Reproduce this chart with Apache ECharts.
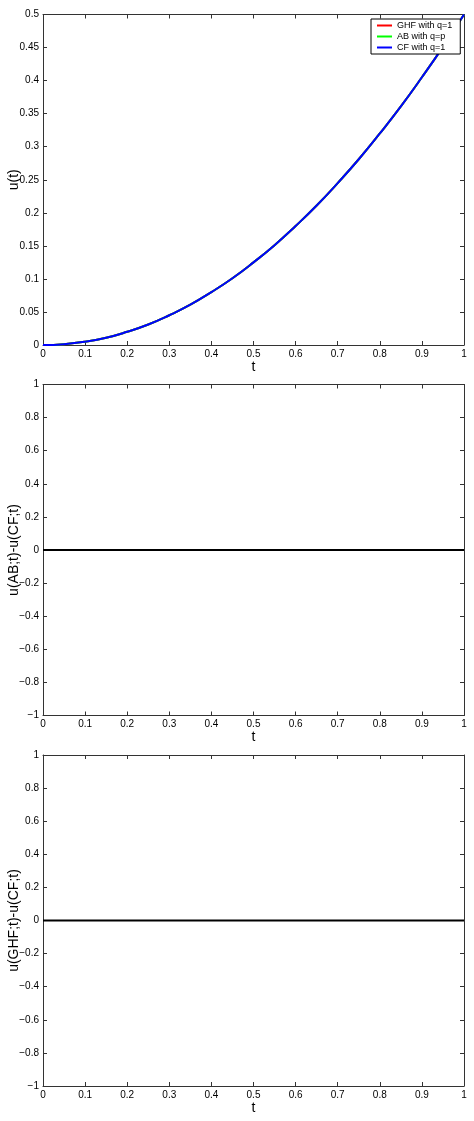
<!DOCTYPE html>
<html>
<head>
<meta charset="utf-8">
<script src="https://cdn.jsdelivr.net/npm/echarts@6/dist/echarts.min.js"></script>
<style>
html,body{margin:0;padding:0;background:#fff;}
#c{width:474px;height:1121px;}
</style>
</head>
<body>
<div id="c"></div>
<script>
// Data
const tValues = [0,0.05,0.1,0.15,0.2,0.25,0.3,0.35,0.4,0.45,0.5,0.55,0.6,0.65,0.7,0.75,0.8,0.85,0.9,0.95,1];
const uGHF = [0,0.0013,0.005,0.011,0.02,0.031,0.045,0.061,0.08,0.101,0.125,0.151,0.18,0.211,0.245,0.281,0.32,0.361,0.405,0.451,0.5];
const uAB  = [0,0.0013,0.005,0.011,0.02,0.031,0.045,0.061,0.08,0.101,0.125,0.151,0.18,0.211,0.245,0.281,0.32,0.361,0.405,0.451,0.5];
const uCF  = [0,0.0013,0.005,0.011,0.02,0.031,0.045,0.061,0.08,0.101,0.125,0.151,0.18,0.211,0.245,0.281,0.32,0.361,0.405,0.451,0.5];
const diffAB  = [0,0,0,0,0,0,0,0,0,0,0,0,0,0,0,0,0,0,0,0,0];
const diffGHF = [0,0,0,0,0,0,0,0,0,0,0,0,0,0,0,0,0,0,0,0,0];
const legendNames = ['GHF with q=1','AB with q=p','CF with q=1'];
const yNames = ['u(t)','u(AB;t)-u(CF;t)','u(GHF;t)-u(CF;t)'];

const FONT = 'Liberation Sans, Arial, Helvetica, sans-serif';
const AX = '#333';
const pair = (xs, ys) => xs.map((x, i) => [x, ys[i]]);

const grids = [
  {left:43, right:10, top:14.5, height:330.5, containLabel:false, outerBoundsMode:'none'},
  {left:43, right:10, top:384.5, height:331, containLabel:false, outerBoundsMode:'none'},
  {left:43, right:10, top:755, height:331, containLabel:false, outerBoundsMode:'none'}
];
const yRanges = [[0,0.5,0.05],[-1,1,0.2],[-1,1,0.2]];

const xAxes = [], yAxes = [];
grids.forEach((g, i) => {
  const lineStyle = {color:AX, width:1};
  xAxes.push({
    type:'value', gridIndex:i, min:0, max:1, interval:0.1, position:'bottom',
    name:'t', nameLocation:'middle', nameGap:15, nameMoveOverlap:false,
    nameTextStyle:{fontFamily:FONT, fontSize:14, color:'#000', verticalAlign:'top'},
    axisLine:{show:true, onZero:false, lineStyle},
    axisTick:{show:true, inside:true, length:4, lineStyle},
    axisLabel:{fontFamily:FONT, fontSize:10, color:'#000', margin:4,
      formatter: v => String(+v.toFixed(2))},
    splitLine:{show:false}
  });
  xAxes.push({
    type:'value', gridIndex:i, min:0, max:1, interval:0.1, position:'top',
    axisLine:{show:true, onZero:false, lineStyle},
    axisTick:{show:true, inside:true, length:4, lineStyle},
    axisLabel:{show:false}, splitLine:{show:false}
  });
  const r = yRanges[i];
  yAxes.push({
    type:'value', gridIndex:i, min:r[0], max:r[1], interval:r[2], position:'left',
    name:yNames[i], nameLocation:'middle', nameGap: 22, nameMoveOverlap:false,
    nameTextStyle:{fontFamily:FONT, fontSize:14, color:'#000'},
    axisLine:{show:true, onZero:false, lineStyle},
    axisTick:{show:true, inside:true, length:4, lineStyle},
    axisLabel:{fontFamily:FONT, fontSize:10, color:'#000', margin:4,
      formatter: v => { const s = String(+v.toFixed(2)); return s.replace('-', '\u2212'); }},
    splitLine:{show:false}
  });
  yAxes.push({
    type:'value', gridIndex:i, min:r[0], max:r[1], interval:r[2], position:'right',
    axisLine:{show:true, onZero:false, lineStyle},
    axisTick:{show:true, inside:true, length:4, lineStyle},
    axisLabel:{show:false}, splitLine:{show:false}
  });
});

const mk = (name, data, color, gi, width) => ({
  name, type:'line', data: pair(tValues, data), xAxisIndex: gi*2, yAxisIndex: gi*2,
  showSymbol:false, smooth:true, animation:false,
  lineStyle:{color, width}, itemStyle:{color}, z:3
});

const chart = echarts.init(document.getElementById('c'), null, {renderer:'canvas'});
chart.setOption({
  animation:false,
  backgroundColor:'#fff',
  grid: grids,
  xAxis: xAxes,
  yAxis: yAxes,
  legend:{
    data: legendNames,
    orient:'vertical', left:371, top:19,
    backgroundColor:'#fff', borderColor:'#000', borderWidth:1,
    padding:[1,8,1,6], itemGap:0,
    itemWidth:15, itemHeight:2, icon:'rect',
    textStyle:{fontFamily:FONT, fontSize:9, lineHeight:11, color:'#000'}
  },
  series:[
    mk(legendNames[0], uGHF, '#ff0000', 0, 2),
    mk(legendNames[1], uAB, '#00ff00', 0, 2),
    mk(legendNames[2], uCF, '#0000ff', 0, 2),
    mk('diffAB', diffAB, '#000', 1, 2),
    mk('diffGHF', diffGHF, '#000', 2, 2)
  ]
});
</script>
</body>
</html>
